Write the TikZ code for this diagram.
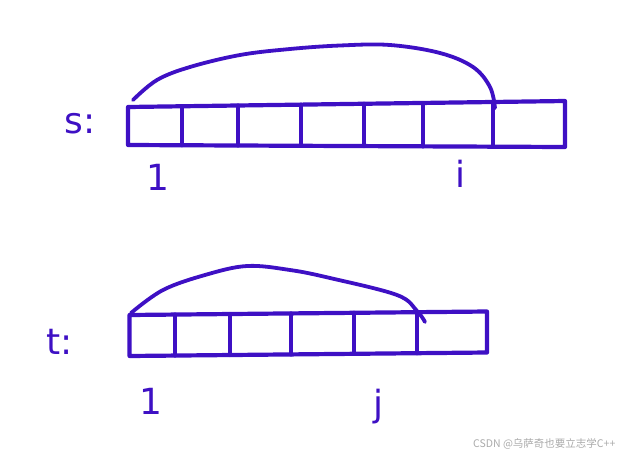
\documentclass[tikz,border=0pt]{standalone}
\usepackage{fontspec}
\setmainfont{DejaVu Sans}
\newfontfamily\cjk{Noto Sans CJK SC}
\newfontfamily\hand{DejaVu Sans}
\definecolor{ink}{RGB}{62,16,196}
\definecolor{wm}{RGB}{170,170,170}
\begin{document}
\begin{tikzpicture}[x=1pt,y=-1pt,
  stroke/.style={draw=ink,line width=4.2pt,line cap=round,line join=round},
  arcline/.style={draw=ink,line width=3.8pt,line cap=round},
  lbl/.style={text=ink,font=\hand\fontsize{36}{36}\selectfont,inner sep=0pt},
  wmark/.style={text=wm,font=\cjk\fontsize{10.5}{12}\selectfont,inner sep=0pt,anchor=west}]
\useasboundingbox (0,0) rectangle (638,456);
% ---- array s ----
\coordinate (s-tl) at (128,107);
\coordinate (s-tr) at (565,101);
\coordinate (s-br) at (565,147);
\coordinate (s-bl) at (128,145);
\draw[stroke] (s-tl) -- (s-tr) -- (s-br) -- (s-bl) -- cycle;
\foreach \x/\yt/\yb/\n in {181.7/106.3/145.2/1,238/105.5/145.5/2,301/104.6/145.8/3,364/103.8/146.1/4,423/103/146.4/5,493/102/146.7/6}{
  \coordinate (s-d\n t) at (\x,\yt);
  \coordinate (s-d\n b) at (\x,\yb);
  \draw[stroke] (s-d\n t) -- (s-d\n b);
}
\coordinate (sa0) at (133,100);
\coordinate (sa7) at (495,108);
\draw[arcline] plot[smooth,tension=0.6] coordinates {(sa0) (157,80) (190,67) (240,55) (290,49) (340,45.5) (390,45) (440,53) (473,67) (490,87) (sa7)};
% ---- array t ----
\coordinate (t-tl) at (129.5,315);
\coordinate (t-tr) at (487,311.5);
\coordinate (t-br) at (487,352.5);
\coordinate (t-bl) at (129.5,356);
\draw[stroke] (t-tl) -- (t-tr) -- (t-br) -- (t-bl) -- cycle;
\foreach \x/\yt/\yb/\n in {175/314.55/355.55/1,230/314/355/2,291/313.4/354.4/3,354/312.8/353.8/4,417/312.2/353.2/5}{
  \coordinate (t-d\n t) at (\x,\yt);
  \coordinate (t-d\n b) at (\x,\yb);
  \draw[stroke] (t-d\n t) -- (t-d\n b);
}
\coordinate (ta0) at (131,313);
\coordinate (ta7) at (425,322);
\draw[arcline] plot[smooth,tension=0.6] coordinates {(ta0) (163,290) (205,275) (247,266) (290,270) (330,278) (397,295) (417,311) (ta7)};
% ---- labels ----
\node[lbl] (slab) at (80,124) {s:};
\node[lbl] (s1) at (158,177) {1};
\node[lbl] (si) at (460,174) {i};
\node[lbl] (tlab) at (60,342) {t:};
\node[lbl] (t1) at (151,401) {1};
\node[lbl] (tj) at (378,407) {j};
\node[wmark] (wmk) at (473,444) {CSDN @乌萨奇也要立志学C++};
\end{tikzpicture}
\end{document}
